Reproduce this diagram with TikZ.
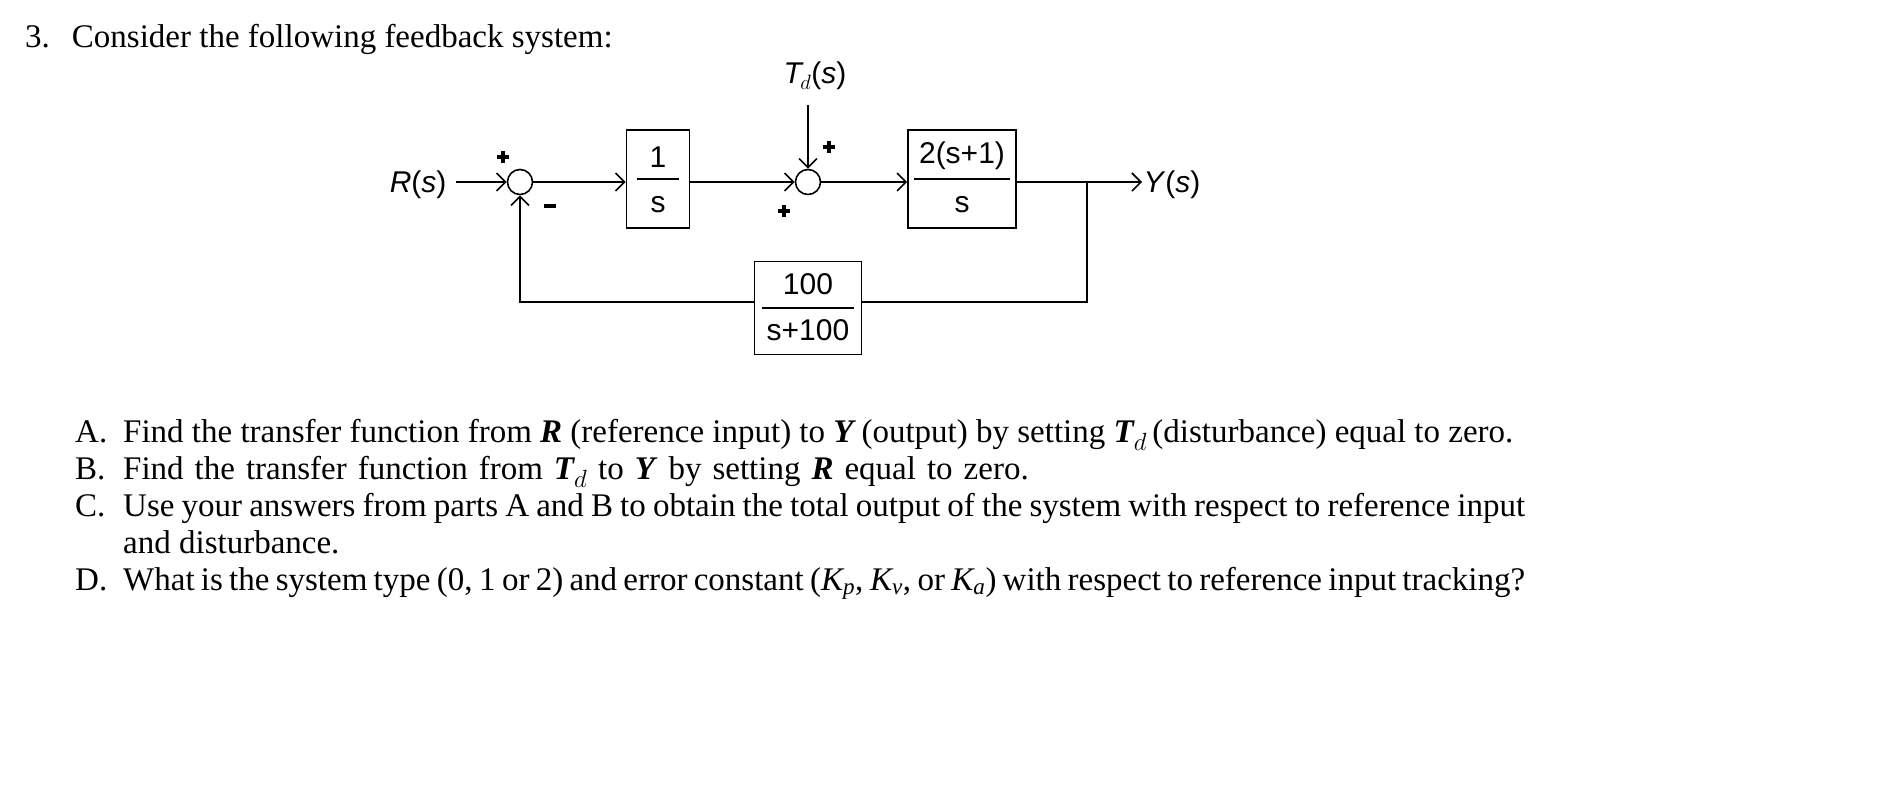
\documentclass[tikz,border=0pt]{standalone}
\usepackage{fontspec}
\setmainfont{Liberation Serif}
\newfontfamily\arialf{Liberation Sans}
\usetikzlibrary{arrows.meta}
\begin{document}
\hyphenpenalty=10000 \exhyphenpenalty=10000
\begin{tikzpicture}[x=1pt,y=-1pt,
  ln/.style={line width=1.6pt},
  arr/.style={ln,-{Straight Barb[length=9pt,width=18pt,line width=1.6pt]}},
  blk/.style={draw,line width=1.6pt,minimum width=#1,minimum height=98pt,inner sep=0pt},
  sumn/.style={draw,circle,line width=1.6pt,minimum size=25pt,inner sep=0pt},
  lab/.style={font=\arialf\fontsize{30}{34}\selectfont},
  sgl/.style={line width=3.5pt},
  qtext/.style={font=\fontsize{33}{37}\selectfont,inner sep=0pt}]
\useasboundingbox (0,0) rectangle (1882,790);
\node[qtext,anchor=base west] (title) at (25,47) {3.\hspace{22pt}Consider the following feedback system:};
% diagram
\node[lab,anchor=east] (R) at (450,185) {\textit{R}(\textit{s})};
\node[sumn] (s1) at (520,182) {};
\node[blk=63pt] (b1) at (658,179) {};
\node[lab] at (658,157) {1};
\node[lab] at (658,205) {s};
\draw[ln] (b1.center)++(-21,0) -- ++(42,0);
\node[sumn] (s2) at (808,182) {};
\node[lab] (Td) at (815,76) {\textit{T}$_{\!d}$(\textit{s})};
\coordinate (tdtop) at (808,105);
\node[blk=108pt] (b2) at (962,179) {};
\node[lab] at (962,156) {2(s+1)};
\node[lab] at (962,205) {s};
\draw[ln] (b2.center)++(-48,0) -- ++(96,0);
\coordinate (br) at (1087,182);
\coordinate (yend) at (1142,182);
\node[lab,anchor=west] (Y) at (1140,185) {\textit{Y}(\textit{s})};
\node[blk=107pt,minimum height=93pt] (b3) at (808,308) {};
\node[lab] at (808,284) {100};
\node[lab] at (808,330) {s+100};
\draw[ln] (b3.center)++(-46,0) -- ++(92,0);
\coordinate (fbr) at (1087,302);
\coordinate (fbl) at (520,302);
\coordinate (rs) at (456,182);
\draw[arr] (rs) -- (s1.west);
\draw[arr] (s1.east) -- (b1.west |- s1);
\draw[arr] (b1.east |- s1) -- (s2.west);
\draw[arr] (tdtop) -- (s2.north);
\draw[arr] (s2.east) -- (b2.west |- s2);
\draw[ln] (b2.east |- s2) -- (br);
\draw[arr] (br) -- (yend);
\draw[ln] (br) -- (fbr) -- (b3.east |- fbr);
\draw[arr] (b3.west |- fbl) -- (fbl) -- (s1.south);
\draw[sgl] (497,157) -- (509,157) (503,151) -- (503,163);
\draw[sgl] (544,206) -- (556,206);
\draw[sgl] (823,147) -- (835,147) (829,141) -- (829,153);
\draw[sgl] (778,211) -- (790,211) (784,205) -- (784,217);
% questions
\node[qtext,anchor=base west] (la) at (75,442) {A.};
\node[qtext,anchor=base west] (lb) at (75,479) {B.};
\node[qtext,anchor=base west] (lc) at (75,516) {C.};
\node[qtext,anchor=base west] (ld) at (75,590) {D.};
\node[qtext,anchor=base west,text width=1402pt,align=justify] (qa) at (123,442) {Find the transfer function from \textbf{\textit{R}} (reference input) to \textbf{\textit{Y}}\,(output) by setting \textbf{\textit{T$_d$}}\,(disturbance) equal to zero.};
\node[qtext,anchor=base west,text width=1402pt,align=left] (qb) at (123,479) {Find the transfer function from \textbf{\textit{T$_d$}} to \textbf{\textit{Y}} by setting \textbf{\textit{R}} equal to zero.};
\node[qtext,anchor=north west,text width=1402pt,align=justify] (qc) at (123,493) {Use your answers from parts A and B to obtain the total output of the system with respect to reference input and disturbance.};
\node[qtext,anchor=north west,text width=1402pt,align=justify] (qd) at (123,567) {What is the system type (0, 1 or 2) and error constant (\textit{K\textsubscript{p}}, \textit{K\textsubscript{v}}, or \textit{K\textsubscript{a}}) with respect to reference input tracking?};
\end{tikzpicture}
\end{document}
